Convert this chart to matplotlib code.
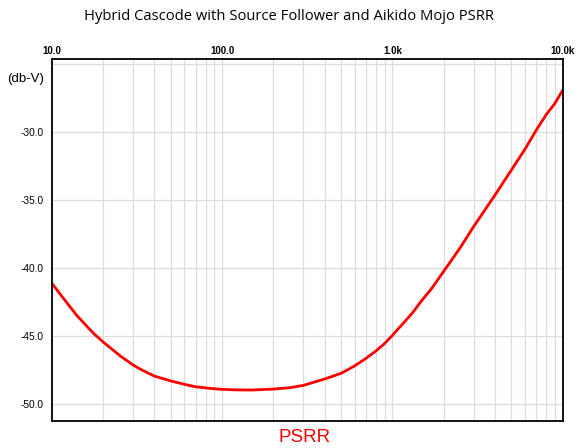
import numpy as np
import matplotlib
matplotlib.use("Agg")
import matplotlib.pyplot as plt
from matplotlib.ticker import LogLocator, FixedLocator, NullFormatter

# PSRR (Hz, dB-V)
freq = [10, 11.2, 14.0, 17.6, 20, 25.2, 30, 33.1, 40, 50, 60, 70, 85,
        100, 120, 150, 200, 250, 300, 400, 500, 600, 700, 800, 900, 1000,
        1150, 1311, 1467, 1700, 2000, 2500, 3000, 4000, 5000, 6000, 7000,
        8000, 9000, 10000]
psrr = [-41.1, -41.9, -43.46, -44.8, -45.42, -46.45, -47.12, -47.43, -47.94,
        -48.3, -48.55, -48.73, -48.85, -48.92, -48.96, -48.97, -48.9,
        -48.8, -48.63, -48.16, -47.74, -47.2, -46.64, -46.1, -45.55, -44.95,
        -44.1, -43.3, -42.48, -41.5, -40.24, -38.5, -36.94, -34.63, -32.77,
        -31.25, -29.83, -28.7, -27.87, -26.9]

xticks = [10, 100, 1000, 10000]
xlabels = ["10.0", "100.0", "1.0k", "10.0k"]
yticks = [-30, -35, -40, -45, -50]
ylabels = ["-30.0", "-35.0", "-40.0", "-45.0", "-50.0"]

fig = plt.figure(figsize=(5.78, 4.48), dpi=100)
ax = fig.add_axes([0.0894, 0.0603, 0.9735 - 0.0894, 0.8683 - 0.0603])

ax.semilogx(freq, psrr, color="#ff0000", lw=2.0, solid_joinstyle="round")
ax.set_xlim(10, 10000)
ax.set_ylim(-51.25, -24.6)

ax.xaxis.tick_top()
ax.set_xticks(xticks)
ax.set_xticklabels(xlabels, fontsize=7, fontweight="bold", family="Liberation Sans")
ax.xaxis.set_minor_locator(LogLocator(base=10, subs=np.arange(2, 10)))
ax.xaxis.set_minor_formatter(NullFormatter())
ax.set_yticks(yticks)
ax.set_yticklabels(ylabels, fontsize=7.3, family="Liberation Sans")
ax.yaxis.set_minor_locator(FixedLocator([-25]))
ax.tick_params(which="both", length=0)
ax.tick_params(axis="x", pad=2)
ax.tick_params(axis="y", pad=6)

ax.grid(True, which="both", color="#dddddd", lw=0.9)
ax.yaxis.grid(True, which="minor", color="#dddddd", lw=0.9)
for s in ax.spines.values():
    s.set_linewidth(1.3)
    s.set_color("black")

fig.text(0.5, 0.964, "Hybrid Cascode with Source Follower and Aikido Mojo PSRR",
         ha="center", va="center", fontsize=10.6, family="Open Sans")
fig.text(0.045, 0.823, "(db-V)", ha="center", va="center", fontsize=9.5,
         family="Liberation Sans")
fig.text(0.527, 0.024, "PSRR", ha="center", va="center", fontsize=13.5,
         color="#ff0000", family="Liberation Sans")

fig.savefig("out.png", dpi=100)
